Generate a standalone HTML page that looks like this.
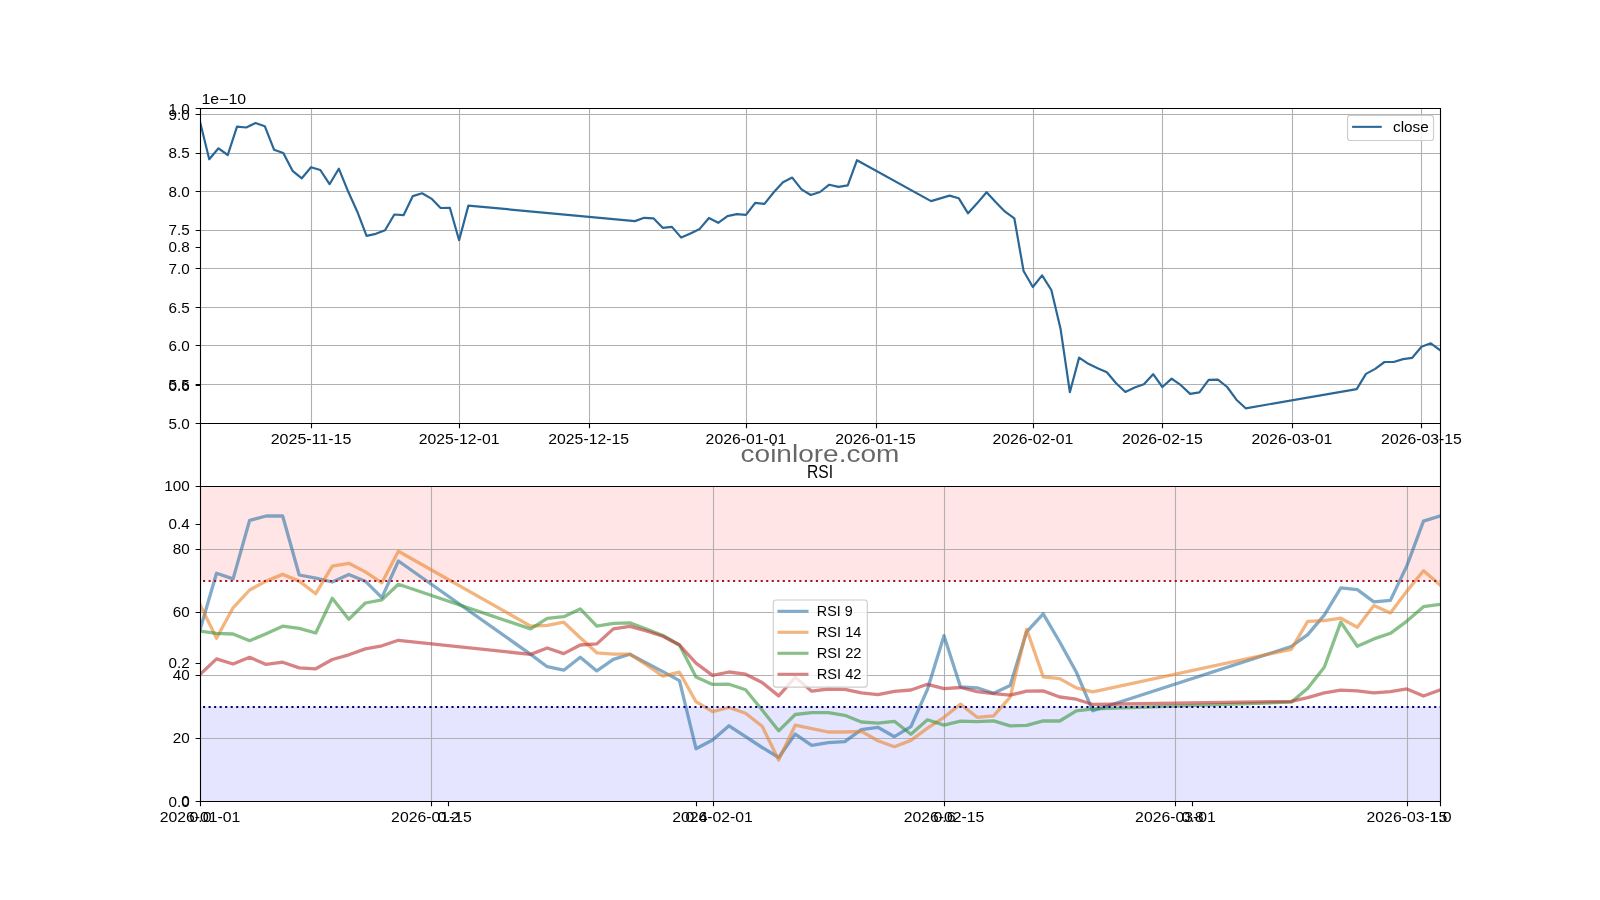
<!DOCTYPE html><html><head><meta charset="utf-8"><style>html,body{margin:0;padding:0;background:#fff;}svg{display:block;will-change:transform;}text{font-family:"Liberation Sans",sans-serif;fill:#000;}</style></head><body>
<svg width="1600" height="900" viewBox="0 0 1600 900">
<rect x="0" y="0" width="1600" height="900" fill="#fff"/>
<defs><clipPath id="c1"><rect x="200" y="108" width="1240" height="315"/></clipPath><clipPath id="c2"><rect x="200" y="486" width="1240" height="315"/></clipPath></defs>
<path d="M200.5 384.50H1440.5 M200.5 345.50H1440.5 M200.5 307.50H1440.5 M200.5 268.50H1440.5 M200.5 230.50H1440.5 M200.5 191.50H1440.5 M200.5 153.50H1440.5 M200.5 114.50H1440.5 M311.50 108.5V423.5 M459.50 108.5V423.5 M589.50 108.5V423.5 M746.50 108.5V423.5 M876.50 108.5V423.5 M1033.50 108.5V423.5 M1162.50 108.5V423.5 M1292.50 108.5V423.5 M1421.50 108.5V423.5" stroke="#b0b0b0" stroke-width="1.11" fill="none"/>
<polyline points="200.00,121.70 209.25,159.20 218.51,148.30 227.76,155.00 237.01,126.70 246.27,127.50 255.52,123.00 264.78,126.20 274.03,149.70 283.28,153.00 292.54,170.80 301.79,178.30 311.04,167.20 320.30,170.00 329.55,184.20 338.81,168.70 348.06,191.30 357.31,211.70 366.57,235.80 375.82,233.80 385.07,230.20 394.33,214.50 403.58,215.20 412.84,196.10 422.09,193.30 431.34,198.60 440.60,208.00 449.85,207.80 459.10,240.20 468.36,205.60 634.93,221.10 644.18,217.80 653.43,218.30 662.69,227.80 671.94,226.90 681.19,237.60 690.45,233.60 699.70,228.90 708.96,218.00 718.21,222.80 727.46,216.10 736.72,214.20 745.97,214.80 755.22,202.80 764.48,203.90 773.73,192.20 782.99,182.20 792.24,177.60 801.49,189.40 810.75,195.00 820.00,192.00 829.25,184.70 838.51,186.90 847.76,185.30 857.01,160.20 931.04,201.10 949.55,195.60 958.81,198.30 968.06,213.30 977.31,203.10 986.57,192.20 995.82,202.20 1005.07,211.70 1014.33,218.30 1023.58,271.00 1032.84,287.00 1042.09,275.40 1051.34,290.00 1060.60,329.10 1069.85,392.20 1079.10,357.60 1088.36,363.80 1097.61,368.20 1106.87,372.30 1116.12,383.30 1125.37,392.00 1134.63,387.50 1143.88,384.20 1153.13,374.20 1162.39,387.00 1171.64,378.60 1180.90,385.20 1190.15,393.90 1199.40,392.40 1208.66,379.80 1217.91,379.60 1227.16,387.00 1236.42,399.70 1245.67,408.30 1356.72,389.10 1365.97,373.90 1375.22,368.90 1384.48,362.00 1393.73,362.00 1402.99,359.10 1412.24,357.80 1421.49,346.70 1430.75,343.30 1440.00,350.20" fill="none" stroke="#2a6796" stroke-width="2.2" stroke-linejoin="round" stroke-linecap="square" clip-path="url(#c1)"/>
<rect x="1347.6" y="115.4" width="85.9" height="25.1" rx="2.8" ry="2.8" fill="#fff" fill-opacity="0.8" stroke="#cccccc" stroke-width="1.11"/>
<path d="M1352.1 126.85H1381.75" stroke="#2a6796" stroke-width="2.08"/>
<text x="1393.00" y="131.90" font-size="14.17" text-anchor="start" textLength="35.78" lengthAdjust="spacingAndGlyphs" fill="#000" >close</text>
<rect x="200.5" y="580.56" width="1240.0" height="0" fill="none"/>
<rect x="200.5" y="487.00" width="1240.0" height="93.56" fill="#ffe5e5"/>
<rect x="200.5" y="706.64" width="1240.0" height="94.86" fill="#e5e5ff"/>
<path d="M200.5 738.50H1440.5 M200.5 675.50H1440.5 M200.5 612.50H1440.5 M200.5 549.50H1440.5 M431.50 486.5V801.5 M713.50 486.5V801.5 M944.50 486.5V801.5 M1175.50 486.5V801.5 M1407.50 486.5V801.5" stroke="#b0b0b0" stroke-width="1.11" fill="none"/>
<polyline points="200.00,630.00 216.53,573.30 233.07,578.90 249.60,520.40 266.13,516.00 282.67,516.00 299.20,575.00 315.73,578.10 332.27,582.00 348.80,574.50 365.33,581.20 381.87,597.60 398.40,561.00 530.67,654.40 547.20,666.70 563.73,670.20 580.27,657.20 596.80,670.90 613.33,659.40 629.87,654.20 646.40,663.00 662.93,671.60 679.47,680.60 696.00,748.70 712.53,740.00 729.07,725.80 745.60,736.70 762.13,747.50 778.67,757.50 795.20,734.10 811.73,745.30 828.27,742.70 844.80,741.70 861.33,729.70 877.87,727.30 894.40,736.70 910.93,726.70 927.47,689.30 944.00,635.70 960.53,687.00 977.07,687.80 993.60,693.20 1010.13,685.40 1026.67,631.80 1043.20,613.80 1059.73,642.00 1076.27,672.00 1092.80,710.80 1291.20,646.50 1307.73,634.60 1324.27,615.10 1340.80,587.90 1357.33,589.70 1373.87,601.80 1390.40,600.40 1406.93,565.60 1423.47,521.10 1440.00,516.00" fill="none" stroke="#2d73a4" stroke-opacity="0.6" stroke-width="3.3" stroke-linejoin="round" stroke-linecap="square" clip-path="url(#c2)"/>
<polyline points="200.00,604.40 216.53,638.20 233.07,607.80 249.60,590.00 266.13,581.10 282.67,574.40 299.20,581.10 315.73,593.70 332.27,566.10 348.80,563.30 365.33,571.90 381.87,582.80 398.40,551.20 530.67,626.10 547.20,625.30 563.73,622.20 580.27,637.80 596.80,652.80 613.33,654.20 629.87,654.10 646.40,664.80 662.93,676.20 679.47,672.20 696.00,701.70 712.53,711.70 729.07,707.50 745.60,713.30 762.13,726.30 778.67,760.00 795.20,725.20 811.73,728.70 828.27,732.00 844.80,732.00 861.33,731.30 877.87,740.70 894.40,746.70 910.93,740.40 927.47,728.10 944.00,717.30 960.53,704.10 977.07,717.30 993.60,715.80 1010.13,697.10 1026.67,629.40 1043.20,676.80 1059.73,678.60 1076.27,687.90 1092.80,691.80 1291.20,649.30 1307.73,621.30 1324.27,620.60 1340.80,618.20 1357.33,627.20 1373.87,605.60 1390.40,612.90 1406.93,591.10 1423.47,570.70 1440.00,584.90" fill="none" stroke="#ea842a" stroke-opacity="0.6" stroke-width="3.3" stroke-linejoin="round" stroke-linecap="square" clip-path="url(#c2)"/>
<polyline points="200.00,631.10 216.53,633.30 233.07,634.00 249.60,640.70 266.13,633.80 282.67,626.20 299.20,628.40 315.73,633.00 332.27,598.30 348.80,619.30 365.33,603.00 381.87,599.90 398.40,584.30 530.67,628.90 547.20,618.30 563.73,616.70 580.27,608.90 596.80,626.10 613.33,623.30 629.87,622.90 646.40,629.00 662.93,635.50 679.47,645.00 696.00,677.00 712.53,684.40 729.07,684.20 745.60,689.70 762.13,710.00 778.67,730.80 795.20,714.50 811.73,712.70 828.27,712.70 844.80,715.30 861.33,722.00 877.87,723.10 894.40,721.30 910.93,734.30 927.47,719.80 944.00,725.10 960.53,721.20 977.07,721.70 993.60,720.80 1010.13,725.90 1026.67,725.40 1043.20,720.90 1059.73,721.00 1076.27,710.80 1092.80,708.90 1291.20,702.20 1307.73,688.20 1324.27,667.20 1340.80,622.10 1357.33,646.20 1373.87,638.90 1390.40,633.30 1406.93,621.10 1423.47,606.70 1440.00,604.40" fill="none" stroke="#3a963a" stroke-opacity="0.6" stroke-width="3.3" stroke-linejoin="round" stroke-linecap="square" clip-path="url(#c2)"/>
<polyline points="200.00,674.40 216.53,658.90 233.07,664.00 249.60,657.30 266.13,664.40 282.67,662.20 299.20,667.90 315.73,668.80 332.27,659.50 348.80,654.80 365.33,648.90 381.87,645.80 398.40,640.30 530.67,654.40 547.20,648.00 563.73,653.60 580.27,645.00 596.80,643.90 613.33,628.90 629.87,626.30 646.40,631.00 662.93,636.30 679.47,645.00 696.00,663.20 712.53,675.40 729.07,672.00 745.60,674.20 762.13,682.50 778.67,695.90 795.20,677.30 811.73,691.20 828.27,689.00 844.80,689.30 861.33,692.90 877.87,694.70 894.40,691.30 910.93,690.00 927.47,684.30 944.00,688.60 960.53,687.50 977.07,691.70 993.60,693.70 1010.13,695.20 1026.67,691.20 1043.20,690.90 1059.73,697.00 1076.27,699.20 1092.80,704.50 1291.20,701.40 1307.73,697.60 1324.27,692.90 1340.80,690.10 1357.33,690.90 1373.87,692.90 1390.40,691.60 1406.93,688.90 1423.47,696.00 1440.00,690.00" fill="none" stroke="#bd3132" stroke-opacity="0.6" stroke-width="3.3" stroke-linejoin="round" stroke-linecap="square" clip-path="url(#c2)"/>
<path d="M200.5 581.0H1440.5" stroke="#a50f28" stroke-width="2.08" stroke-dasharray="2.0833 3.4375" stroke-dashoffset="-2.56"/>
<path d="M200.5 707.0H1440.5" stroke="#000070" stroke-width="2.08" stroke-dasharray="2.0833 3.4375" stroke-dashoffset="-2.56"/>
<rect x="773.3" y="600.0" width="94.0" height="87.1" rx="2.8" ry="2.8" fill="#fff" fill-opacity="0.8" stroke="#cccccc" stroke-width="1.11"/>
<path d="M777.5 611.30H808.5" stroke="#2d73a4" stroke-opacity="0.6" stroke-width="3.1"/>
<text x="816.80" y="616.00" font-size="14.17" text-anchor="start" textLength="35.82" lengthAdjust="spacingAndGlyphs" fill="#000" >RSI 9</text>
<path d="M777.5 632.30H808.5" stroke="#ea842a" stroke-opacity="0.6" stroke-width="3.1"/>
<text x="816.80" y="637.00" font-size="14.17" text-anchor="start" textLength="44.66" lengthAdjust="spacingAndGlyphs" fill="#000" >RSI 14</text>
<path d="M777.5 653.30H808.5" stroke="#3a963a" stroke-opacity="0.6" stroke-width="3.1"/>
<text x="816.80" y="658.00" font-size="14.17" text-anchor="start" textLength="44.66" lengthAdjust="spacingAndGlyphs" fill="#000" >RSI 22</text>
<path d="M777.5 674.30H808.5" stroke="#bd3132" stroke-opacity="0.6" stroke-width="3.1"/>
<text x="816.80" y="679.00" font-size="14.17" text-anchor="start" textLength="44.66" lengthAdjust="spacingAndGlyphs" fill="#000" >RSI 42</text>
<path d="M200.5 108.5H1440.5 M200.5 423.5H1440.5 M200.5 486.5H1440.5 M200.5 801.5H1440.5 M200.5 108.5V801.5 M1440.5 108.5V801.5" stroke="#000" stroke-width="1.11" fill="none" stroke-linecap="square"/>
<path d="M195.64 423.50H200.5 M195.64 384.50H200.5 M195.64 345.50H200.5 M195.64 307.50H200.5 M195.64 268.50H200.5 M195.64 230.50H200.5 M195.64 191.50H200.5 M195.64 153.50H200.5 M195.64 114.50H200.5 M311.50 423.5V428.36 M459.50 423.5V428.36 M589.50 423.5V428.36 M746.50 423.5V428.36 M876.50 423.5V428.36 M1033.50 423.5V428.36 M1162.50 423.5V428.36 M1292.50 423.5V428.36 M1421.50 423.5V428.36 M195.64 801.50H200.5 M195.64 738.50H200.5 M195.64 675.50H200.5 M195.64 612.50H200.5 M195.64 549.50H200.5 M195.64 486.50H200.5 M200.50 801.5V806.36 M431.50 801.5V806.36 M713.50 801.5V806.36 M944.50 801.5V806.36 M1175.50 801.5V806.36 M1407.50 801.5V806.36 M195.64 801.50H200.5 M200.50 801.5V806.36 M195.64 663.50H200.5 M448.50 801.5V806.36 M195.64 524.50H200.5 M696.50 801.5V806.36 M195.64 385.50H200.5 M944.50 801.5V806.36 M195.64 247.50H200.5 M1192.50 801.5V806.36 M195.64 108.50H200.5 M1440.50 801.5V806.36" stroke="#000" stroke-width="1.11" fill="none"/>
<text x="189.80" y="428.50" font-size="14.17" text-anchor="end" textLength="21.20" lengthAdjust="spacingAndGlyphs" fill="#000" >5.0</text>
<text x="189.80" y="389.88" font-size="14.17" text-anchor="end" textLength="21.20" lengthAdjust="spacingAndGlyphs" fill="#000" >5.5</text>
<text x="189.80" y="351.25" font-size="14.17" text-anchor="end" textLength="21.20" lengthAdjust="spacingAndGlyphs" fill="#000" >6.0</text>
<text x="189.80" y="312.62" font-size="14.17" text-anchor="end" textLength="21.20" lengthAdjust="spacingAndGlyphs" fill="#000" >6.5</text>
<text x="189.80" y="274.00" font-size="14.17" text-anchor="end" textLength="21.20" lengthAdjust="spacingAndGlyphs" fill="#000" >7.0</text>
<text x="189.80" y="235.38" font-size="14.17" text-anchor="end" textLength="21.20" lengthAdjust="spacingAndGlyphs" fill="#000" >7.5</text>
<text x="189.80" y="196.75" font-size="14.17" text-anchor="end" textLength="21.20" lengthAdjust="spacingAndGlyphs" fill="#000" >8.0</text>
<text x="189.80" y="158.12" font-size="14.17" text-anchor="end" textLength="21.20" lengthAdjust="spacingAndGlyphs" fill="#000" >8.5</text>
<text x="189.80" y="119.50" font-size="14.17" text-anchor="end" textLength="21.20" lengthAdjust="spacingAndGlyphs" fill="#000" >9.0</text>
<text x="189.80" y="806.20" font-size="14.17" text-anchor="end" textLength="8.48" lengthAdjust="spacingAndGlyphs" fill="#000" >0</text>
<text x="189.80" y="743.20" font-size="14.17" text-anchor="end" textLength="16.96" lengthAdjust="spacingAndGlyphs" fill="#000" >20</text>
<text x="189.80" y="680.20" font-size="14.17" text-anchor="end" textLength="16.96" lengthAdjust="spacingAndGlyphs" fill="#000" >40</text>
<text x="189.80" y="617.20" font-size="14.17" text-anchor="end" textLength="16.96" lengthAdjust="spacingAndGlyphs" fill="#000" >60</text>
<text x="189.80" y="554.20" font-size="14.17" text-anchor="end" textLength="16.96" lengthAdjust="spacingAndGlyphs" fill="#000" >80</text>
<text x="189.80" y="491.20" font-size="14.17" text-anchor="end" textLength="25.44" lengthAdjust="spacingAndGlyphs" fill="#000" >100</text>
<text x="189.80" y="806.60" font-size="14.17" text-anchor="end" textLength="21.20" lengthAdjust="spacingAndGlyphs" fill="#000" >0.0</text>
<text x="189.80" y="668.00" font-size="14.17" text-anchor="end" textLength="21.20" lengthAdjust="spacingAndGlyphs" fill="#000" >0.2</text>
<text x="189.80" y="529.40" font-size="14.17" text-anchor="end" textLength="21.20" lengthAdjust="spacingAndGlyphs" fill="#000" >0.4</text>
<text x="189.80" y="390.80" font-size="14.17" text-anchor="end" textLength="21.20" lengthAdjust="spacingAndGlyphs" fill="#000" >0.6</text>
<text x="189.80" y="252.20" font-size="14.17" text-anchor="end" textLength="21.20" lengthAdjust="spacingAndGlyphs" fill="#000" >0.8</text>
<text x="189.80" y="113.60" font-size="14.17" text-anchor="end" textLength="21.20" lengthAdjust="spacingAndGlyphs" fill="#000" >1.0</text>
<text x="311.04" y="444.00" font-size="14.17" text-anchor="middle" textLength="80.70" lengthAdjust="spacingAndGlyphs" fill="#000" >2025-11-15</text>
<text x="459.10" y="444.00" font-size="14.17" text-anchor="middle" textLength="80.70" lengthAdjust="spacingAndGlyphs" fill="#000" >2025-12-01</text>
<text x="588.66" y="444.00" font-size="14.17" text-anchor="middle" textLength="80.70" lengthAdjust="spacingAndGlyphs" fill="#000" >2025-12-15</text>
<text x="745.97" y="444.00" font-size="14.17" text-anchor="middle" textLength="80.70" lengthAdjust="spacingAndGlyphs" fill="#000" >2026-01-01</text>
<text x="875.52" y="444.00" font-size="14.17" text-anchor="middle" textLength="80.70" lengthAdjust="spacingAndGlyphs" fill="#000" >2026-01-15</text>
<text x="1032.84" y="444.00" font-size="14.17" text-anchor="middle" textLength="80.70" lengthAdjust="spacingAndGlyphs" fill="#000" >2026-02-01</text>
<text x="1162.39" y="444.00" font-size="14.17" text-anchor="middle" textLength="80.70" lengthAdjust="spacingAndGlyphs" fill="#000" >2026-02-15</text>
<text x="1291.94" y="444.00" font-size="14.17" text-anchor="middle" textLength="80.70" lengthAdjust="spacingAndGlyphs" fill="#000" >2026-03-01</text>
<text x="1421.49" y="444.00" font-size="14.17" text-anchor="middle" textLength="80.70" lengthAdjust="spacingAndGlyphs" fill="#000" >2026-03-15</text>
<text x="200.00" y="822.00" font-size="14.17" text-anchor="middle" textLength="80.70" lengthAdjust="spacingAndGlyphs" fill="#000" >2026-01-01</text>
<text x="431.47" y="822.00" font-size="14.17" text-anchor="middle" textLength="80.70" lengthAdjust="spacingAndGlyphs" fill="#000" >2026-01-15</text>
<text x="712.53" y="822.00" font-size="14.17" text-anchor="middle" textLength="80.70" lengthAdjust="spacingAndGlyphs" fill="#000" >2026-02-01</text>
<text x="944.00" y="822.00" font-size="14.17" text-anchor="middle" textLength="80.70" lengthAdjust="spacingAndGlyphs" fill="#000" >2026-02-15</text>
<text x="1175.47" y="822.00" font-size="14.17" text-anchor="middle" textLength="80.70" lengthAdjust="spacingAndGlyphs" fill="#000" >2026-03-01</text>
<text x="1406.93" y="822.00" font-size="14.17" text-anchor="middle" textLength="80.70" lengthAdjust="spacingAndGlyphs" fill="#000" >2026-03-15</text>
<text x="200.50" y="822.00" font-size="14.17" text-anchor="middle" textLength="22.09" lengthAdjust="spacingAndGlyphs" fill="#000" >0.0</text>
<text x="448.50" y="822.00" font-size="14.17" text-anchor="middle" textLength="22.09" lengthAdjust="spacingAndGlyphs" fill="#000" >0.2</text>
<text x="696.50" y="822.00" font-size="14.17" text-anchor="middle" textLength="22.09" lengthAdjust="spacingAndGlyphs" fill="#000" >0.4</text>
<text x="944.50" y="822.00" font-size="14.17" text-anchor="middle" textLength="22.09" lengthAdjust="spacingAndGlyphs" fill="#000" >0.6</text>
<text x="1192.50" y="822.00" font-size="14.17" text-anchor="middle" textLength="22.09" lengthAdjust="spacingAndGlyphs" fill="#000" >0.8</text>
<text x="1440.50" y="822.00" font-size="14.17" text-anchor="middle" textLength="22.09" lengthAdjust="spacingAndGlyphs" fill="#000" >1.0</text>
<text x="201.50" y="103.80" font-size="14.17" text-anchor="start" textLength="44.58" lengthAdjust="spacingAndGlyphs" fill="#000" >1e−10</text>
<text x="820" y="477.9" font-size="18.4" text-anchor="middle" textLength="26.1" lengthAdjust="spacingAndGlyphs">RSI</text>
<text x="820" y="461.5" font-size="23.5" text-anchor="middle" textLength="158.9" lengthAdjust="spacingAndGlyphs" fill="#000" fill-opacity="0.6">coinlore.com</text>
</svg></body></html>
